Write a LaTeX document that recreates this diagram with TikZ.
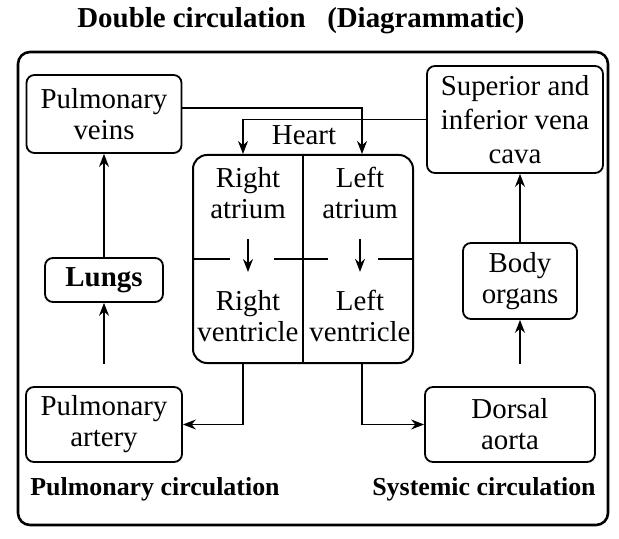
\documentclass[tikz,border=0pt]{standalone}
\usepackage{fontspec}
\setmainfont{Liberation Serif}
\usetikzlibrary{arrows.meta}

\begin{document}
\begin{tikzpicture}[x=0.5bp, y=-0.5bp,
    every node/.style={font=\fontsize{14.5}{15.5}\selectfont, align=center, inner sep=0pt},
    >={Stealth[length=6.5bp, width=5bp]},
    box/.style={draw, rounded corners=4bp, line width=0.9bp},
    flow/.style={->, line width=0.6bp}]
  \useasboundingbox (0,0) rectangle (619,539);

  \node[font=\fontsize{14.5}{15.5}\selectfont\bfseries] (title) at (301,21) {Double circulation\ \ \ (Diagrammatic)};
  \draw[rounded corners=6bp, line width=1.3bp] (18,52) rectangle (608,525);

  \node[box, minimum width=77.5bp, minimum height=39bp] (veins) at (104,114) {Pulmonary\\ veins};
  \node[box, minimum width=88bp, minimum height=53.5bp, font=\fontsize{14.5}{17}\selectfont] (vena) at (515,119.5)
    {Superior and\\ inferior vena\\ cava};
  \node[box, minimum width=59bp, minimum height=22bp, font=\fontsize{14.5}{15.5}\selectfont\bfseries] (lungs) at (104,280) {Lungs};
  \node[box, minimum width=78bp, minimum height=37.5bp] (artery) at (104,424.5) {Pulmonary\\ artery};
  \node[box, minimum width=57bp, minimum height=38bp] (body) at (520,281) {Body\\ organs};
  \node[box, minimum width=85bp, minimum height=37.5bp] (dorsal) at (510,424.5) {Dorsal\\ aorta};

  % heart and its four chambers
  \node[box, rounded corners=7bp, line width=1bp, minimum width=110bp, minimum height=104bp] (heart) at (303,259) {};
  \node (heartlbl) at (304,135) {Heart};
  \node (ra) at (248,193) {Right\\ atrium};
  \node (la) at (360,193) {Left\\ atrium};
  \node (rv) at (248,316) {Right\\ ventricle};
  \node (lv) at (360,316) {Left\\ ventricle};
  \draw[line width=0.6bp] (heart.north) -- (heart.south);
  \draw[line width=0.6bp] (heart.west) -- (230,259) (274,259) -- (328,259) (378,259) -- (heart.east);
  \coordinate (rcol) at (243,0);
  \coordinate (lcol) at (362,0);

  \node[font=\fontsize{13}{14}\selectfont\bfseries, anchor=base west] (pulcirc) at (30,495) {Pulmonary circulation};
  \node[font=\fontsize{13}{14}\selectfont\bfseries, anchor=base east] (syscirc) at (596,495) {Systemic circulation};

  \draw[flow, shorten <=10bp, shorten >=9bp] (ra.south) -- (rv.north);
  \draw[flow, shorten <=10bp, shorten >=9bp] (la.south) -- (lv.north);
  \draw[flow] ([yshift=3bp]veins.east) -| (heart.north -| lcol);
  \draw[flow] (vena.west) -| (heart.north -| rcol);
  \draw[flow] (heart.south -| rcol) |- (artery.east);
  \draw[flow] (heart.south -| lcol) |- (dorsal.west);
  \draw[flow, shorten <=11bp] (artery.north) -- (lungs.south);
  \draw[flow] (lungs.north) -- (veins.south);
  \draw[flow, shorten <=11bp] (dorsal.north -| body) -- (body.south);
  \draw[flow] (body.north) -- (body.north |- vena.south);
\end{tikzpicture}
\end{document}
